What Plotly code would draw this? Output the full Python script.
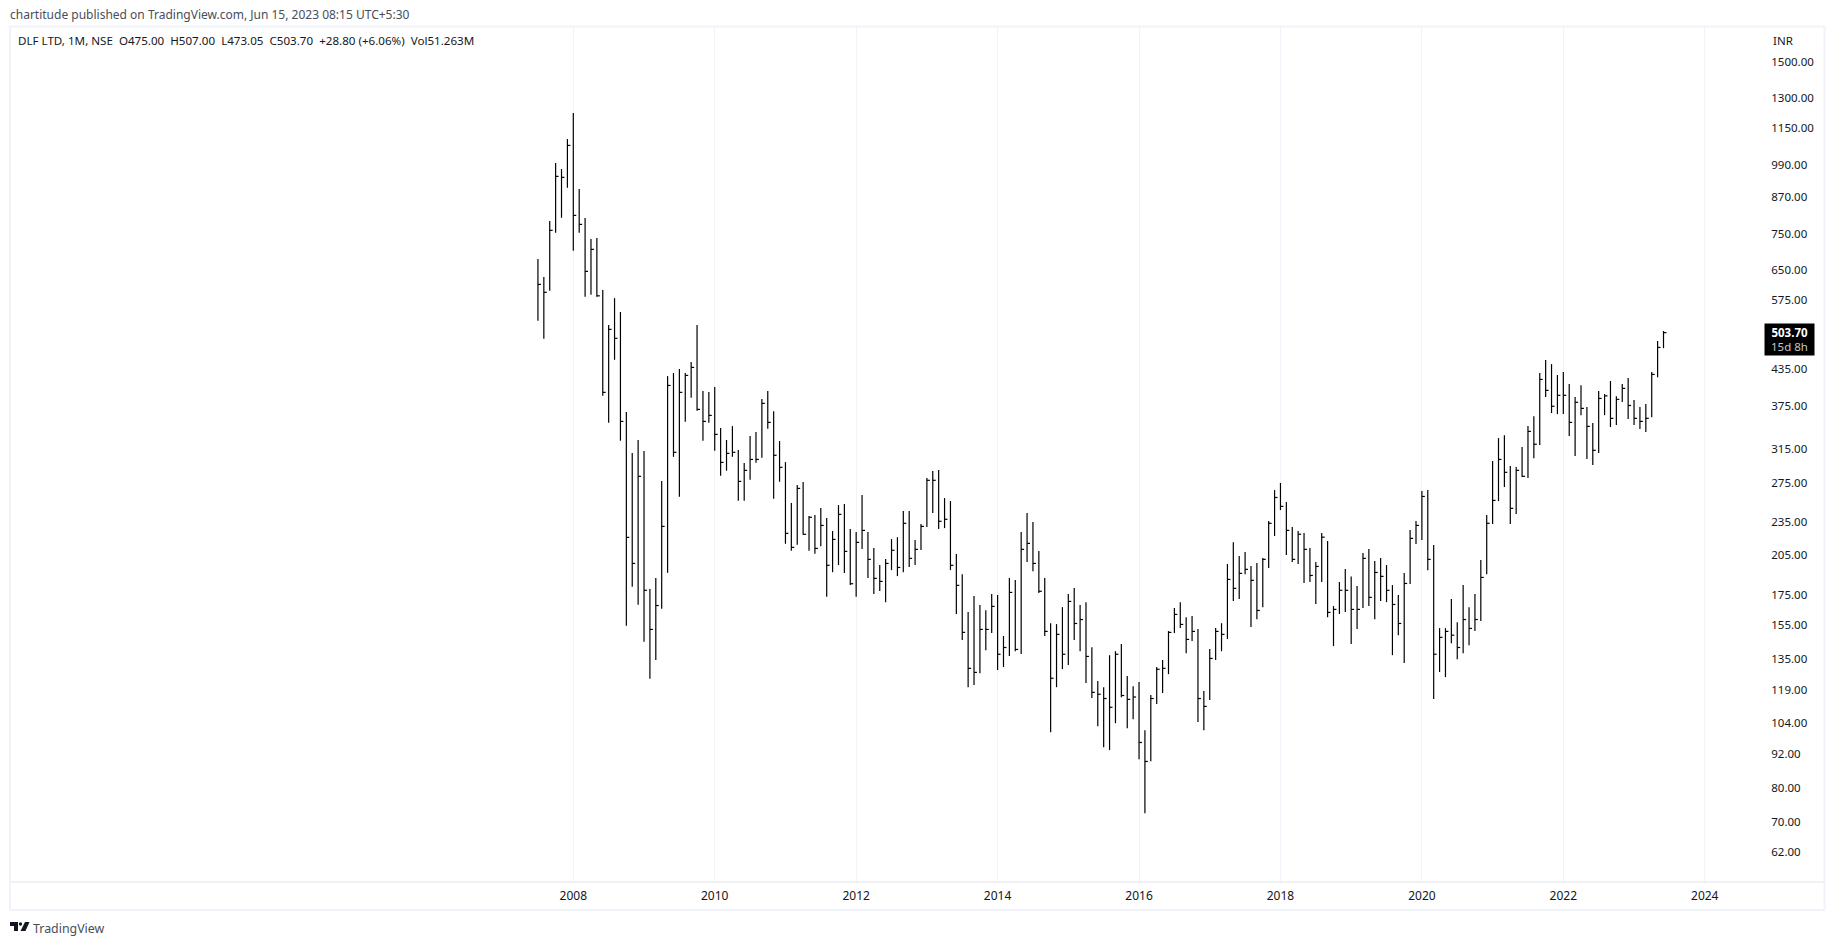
import math
import plotly.graph_objects as go
import pandas as pd

months = pd.date_range("2007-07-01", "2023-06-01", freq="MS").strftime("%Y-%m").tolist()

highs = [678,630.4,790.4,999,975,1100.5,1222.3,899.4,800,735,737.8,598.2,519.5,579,547.4,365.5,309.8,326.5,312.3,178.9,187,276.7,422.6,427.9,434.8,427.9,447.3,519.5,397.9,396.3,
 404.3,342.6,326.5,345.4,313.6,297.5,331.8,337.2,385.2,397.9,366.9,325.2,298.7,253.1,272.3,275.6,240.3,241.2,248.1,238.3,226.1,251.1,252.1,227.9,225.2,261.5,225.2,211.1,197.1,201.9,
 218.9,220.6,245.1,245.1,218,232.6,280,288,289.2,258.3,255.2,206,190,163,173.9,167.7,164.3,175.4,174.7,148,187,185.5,225.2,243.1,234.5,208.6,187,155.9,155.3,166.3,
 175.4,179.6,167.7,169.7,141.5,123.4,120.4,137,139.2,143.3,125.9,120.9,122.9,101.2,116.6,130.6,134.3,151,165.7,169.7,159.7,160.4,152.2,118.5,140.4,152.8,155.9,197.9,216.2,204.4,
 207.7,196.3,198.7,202.8,235.4,266.8,274.5,254.2,229.8,226.1,224.3,211.1,199.5,224.3,217.1,167,184,193.9,188.2,181.1,207,210.2,200.3,202.8,197.1,181.8,174.7,190.8,227,235.4,
 265.7,266.8,213.7,152.8,152.8,171.8,156.5,181.8,166.3,175.4,201.1,241.2,299.9,329.1,333,293.9,292.7,317.4,345.4,359.4,427.9,450.9,443.6,424.5,429.6,409.3,388.3,407.5,373,349.7,
 397.9,393.2,414.3,389.8,409.3,419.3,383.7,373.1,377.5,429.6,487,507]

lows = [528.5,491.5,596.5,754,801,904,701,754,582,587,582,390.4,350,451.4,325.6,154.2,180.6,167.9,144.6,124.5,134.4,165.2,191,305.1,259.6,351.5,387.3,367.5,325.6,350,
 312.7,282.6,288.4,305.1,255.5,255.5,278.1,297.8,303.9,341.7,257.5,275.9,214.8,208.8,213.9,222.8,208.8,206.3,212.6,173.4,191.5,197.1,190.8,181.8,173.4,210.2,187,175.4,177.5,169.7,
 193.1,188.5,191.5,195.5,197.1,209.4,229.8,243.2,227.9,228.8,193.1,161.7,145.6,120.4,121.4,127.4,139.8,149.8,129,130.6,136.5,139.2,137.6,199.5,192.3,176.1,148,100.4,120.4,129.5,
 131.6,145.6,139.2,122.4,115.2,102.8,94.5,93.4,104.1,115.6,102,105.8,90,72.4,89.3,112.5,117.6,126.9,149.8,152.8,138.1,145,104.6,101.2,114.3,134.3,139.2,146.2,170.4,171.8,
 190,153.5,158.4,166.3,194.7,221.6,246.1,205.2,199.5,197.9,183.3,184,168.4,184,159.7,142.1,161.7,163,143.3,152.2,165.7,167,158.4,170.4,169.7,137,148.5,132.7,182.5,214.5,
 218,193.1,114.8,128,125.4,143.8,134.8,138.1,142.6,151,157.2,190,232.6,255.2,270,232.6,242.2,281.1,280,303.5,319.9,388.3,364.1,362.6,362.6,331.7,306,361,302.3,295.1,
 309.8,361,344.1,346.9,380.6,355.3,346.9,341.3,337.2,358.1,420.8,473.05]

closes = [612,592.7,761.3,946.6,942.8,1072.5,808.6,779.8,645,705,584.4,395.8,510.4,492.3,352,220.4,198.4,282,178,152,167.4,230.4,407,310.7,395.8,423.8,437.8,369.5,352,360.7,
 334,298.3,309.4,310.7,276.3,288.9,301.9,301.9,378.6,350.6,307,292.4,224,211.7,268.6,223.2,239,210.8,231.3,196.9,218.6,241.9,208.3,182.8,216,226.7,201.7,186.8,184.5,198.4,
 209.2,195.2,233.3,202.5,210,230.4,277.5,277.5,235.2,237.1,196.9,181.6,150.2,129.9,127.8,152,152,166.8,137.5,141.3,176.5,140.2,210,215.1,198.4,177.3,150.8,124.8,149,137.5,
 170.2,155.7,158.2,136.3,117.9,117,115,111,137.5,116.4,114.6,115.7,96.3,89.2,115,129.4,129.9,150.2,161.5,155.1,146,150.8,115,111.4,135.2,150.8,149,186,179.4,190.6,
 193.7,185.3,164.1,201.7,233.3,258.9,249.8,226.7,201.7,223.2,210,189,196,220.6,162.8,164.8,178,178,164.8,164.8,202.5,173,191.3,188.3,178,168.1,155.7,183,219.5,231.3,
 260,201.7,137.5,147.2,150.8,148.5,141.3,158.2,152.6,158.2,187.5,233.3,255.9,301.9,286.6,247.8,288.9,282,338.1,321,417,399,374.2,391.1,391.1,350.6,380.2,371,345,313.2,
 386.2,390.2,356.4,384.8,402.2,375.4,356.4,352,356.4,425.6,474.5,503.7]

price_ticks = [1500,1300,1150,990,870,750,650,575,435,375,315,275,235,205,175,155,135,119,104,92,80,70,62]
year_ticks = list(range(2008, 2025, 2))

header = "chartitude published on TradingView.com, Jun 15, 2023 08:15 UTC+5:30"
legend = "DLF LTD, 1M, NSE  O475.00  H507.00  L473.05  C503.70  +28.80 (+6.06%)  Vol51.263M"

FONT = "Noto Sans"
L, R, T, B = 11, 1764, 27, 882
W, H = 1834, 945

def px(x):
    return (x - L) / (R - L)

def py(y):
    return (B - y) / (B - T)

def path(points):
    return "M" + " L".join(f"{px(a):.5f},{py(b):.5f}" for a, b in points) + " Z"

stem_x, stem_y, tick_x, tick_y = [], [], [], []
for i, (h, l, c) in enumerate(zip(highs, lows, closes)):
    stem_x += [i, i, None]
    stem_y += [l, h, None]
    tick_x += [i, i + 0.5, None]
    tick_y += [c, c, None]

fig = go.Figure()
fig.add_trace(go.Scatter(x=stem_x, y=stem_y, mode="lines", line=dict(color="#000000", width=1.2),
                         hoverinfo="skip", showlegend=False))
fig.add_trace(go.Scatter(x=tick_x, y=tick_y, mode="lines", line=dict(color="#000000", width=1.2),
                         hoverinfo="skip", showlegend=False))

def month_index(year):
    return (year - 2007) * 12 - 6

# axis scale: 5.893 px per monthly bar, Jan 2008 at x = 573.3
unit = 5.893
x0 = month_index(2008) + (L - 573.3) / unit
x1 = month_index(2008) + (R - 573.3) / unit

k = 0.004037
ptop = 1929.2 * math.exp(-k * T)
pbot = 1929.2 * math.exp(-k * B)

annotations = [
    dict(text=header, x=px(9), y=py(15), xanchor="left", yanchor="middle", font=dict(size=12, color="#4a4e58")),
    dict(text=legend, x=px(17), y=py(41), xanchor="left", yanchor="middle", font=dict(size=11.6, color="#131722")),
    dict(text="INR", x=px(1772), y=py(41), xanchor="left", yanchor="middle", font=dict(size=11.5, color="#131722")),
    dict(text="TradingView", x=px(32), y=py(928), xanchor="left", yanchor="middle", font=dict(size=12.4, color="#4a4e58")),
]
for a in annotations:
    a.update(xref="paper", yref="paper", showarrow=False, borderpad=0)
    a["font"]["family"] = FONT

annotations.append(dict(
    text="<b>503.70</b><br><span style='color:#c8c8c8'>15d 8h</span>",
    xref="paper", x=1, xanchor="left",
    yref="y", y=math.log10(closes[-1]), yanchor="middle", yshift=-7,
    showarrow=False, bgcolor="#000000", width=49, height=31, borderpad=0, align="center",
    font=dict(family=FONT, size=11.5, color="#ffffff"),
))

shapes = [
    dict(type="rect", xref="paper", yref="paper", x0=px(10), x1=px(1824.5), y0=py(910), y1=py(26.5),
         line=dict(color="#f0f3fa", width=2), fillcolor="rgba(0,0,0,0)", layer="below"),
    dict(type="line", xref="paper", yref="paper", x0=px(11), x1=px(1823.5), y0=py(882), y1=py(882),
         line=dict(color="#e0e3eb", width=1)),
    dict(type="path", xref="paper", yref="paper", fillcolor="#131722", line_width=0,
         path=path([(10, 922), (18, 922), (18, 931), (14, 931), (14, 926), (10, 926)])),
    dict(type="circle", xref="paper", yref="paper", fillcolor="#131722", line_width=0,
         x0=px(18.8), x1=px(22.2), y0=py(925.7), y1=py(922.3)),
    dict(type="path", xref="paper", yref="paper", fillcolor="#131722", line_width=0,
         path=path([(25, 922), (29.5, 922), (25.5, 931), (20.5, 931)])),
]

fig.update_layout(
    width=W, height=H, autosize=False,
    margin=dict(l=L, r=W - R, t=T, b=H - B, pad=0),
    paper_bgcolor="#ffffff", plot_bgcolor="#ffffff",
    showlegend=False,
    annotations=annotations, shapes=shapes,
    xaxis=dict(
        type="linear", range=[x0, x1], showline=False, zeroline=False,
        showgrid=True, gridcolor="#f0f3fa", gridwidth=1,
        tickmode="array", tickvals=[month_index(y) for y in year_ticks], ticktext=[str(y) for y in year_ticks],
        ticks="outside", ticklen=3, tickcolor="rgba(0,0,0,0)",
        tickfont=dict(family=FONT, size=12, color="#131722"),
    ),
    yaxis=dict(
        type="log", side="right", range=[math.log10(pbot), math.log10(ptop)],
        showline=False, zeroline=False, showgrid=False,
        tickmode="array", tickvals=price_ticks, ticktext=[f"{v:.2f}" for v in price_ticks],
        ticks="outside", ticklen=4, tickcolor="rgba(0,0,0,0)",
        tickfont=dict(family=FONT, size=11.5, color="#131722"),
    ),
)

fig.write_html("out.html", config=dict(displayModeBar=False),
               post_script="document.body.style.margin='0';document.documentElement.style.overflow='hidden';")
